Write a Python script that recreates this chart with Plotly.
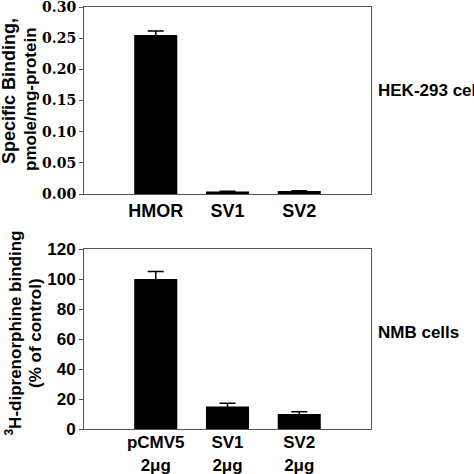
import plotly.graph_objects as go

# Top panel: HEK-293 cells
top_cats = ["HMOR", "SV1", "SV2"]
top_vals = [0.255, 0.004, 0.005]
top_err = [0.0065, 0.0004, 0.0004]
top_ticks = [0.00, 0.05, 0.10, 0.15, 0.20, 0.25, 0.30]
top_ticktext = ["0.00", "0.05", "0.10", "0.15", "0.20", "0.25", "0.30"]

# Bottom panel: NMB cells
bot_cats = ["pCMV5<br>2μg", "SV1<br>2μg", "SV2<br>2μg"]
bot_vals = [100, 15, 10]
bot_err = [5, 2.2, 1.5]
bot_ticks = [0, 20, 40, 60, 80, 100, 120]

W, H = 474, 474
AX = "#555555"
SANS = "Liberation Sans"
SERIF = "DejaVu Serif"


def px(v):
    # pixel from top -> paper y
    return 1 - v / H


fig = go.Figure()

fig.add_trace(go.Bar(
    x=top_cats, y=top_vals, width=0.6,
    marker=dict(color="black", line=dict(width=0)),
    error_y=dict(type="data", array=top_err, color="black", thickness=1.5, width=8),
    xaxis="x", yaxis="y", showlegend=False
))
fig.add_trace(go.Bar(
    x=bot_cats, y=bot_vals, width=0.6,
    marker=dict(color="black", line=dict(width=0)),
    error_y=dict(type="data", array=bot_err, color="black", thickness=1.5, width=8),
    xaxis="x2", yaxis="y2", showlegend=False
))

xdom = [84 / W, 371 / W]
axis_common = dict(showline=True, linecolor=AX, linewidth=1, mirror=True,
                   showgrid=False, zeroline=False, automargin=False,
                   ticklabeloverflow="allow")

fig.update_layout(
    width=W, height=H,
    margin=dict(l=0, r=0, t=0, b=0, autoexpand=False),
    paper_bgcolor="white", plot_bgcolor="white",
    xaxis=dict(domain=xdom, anchor="y", range=[-1, 3], ticks="",
               tickfont=dict(family=SANS, size=18, color="black", weight="bold"),
               **axis_common),
    yaxis=dict(domain=[px(194), px(7)], anchor="x", range=[0, 0.30],
               tickvals=top_ticks, ticktext=top_ticktext,
               ticks="outside", ticklen=4, tickcolor=AX,
               tickfont=dict(family=SERIF, size=14, color="black", weight="bold"),
               **axis_common),
    xaxis2=dict(domain=xdom, anchor="y2", range=[-1, 3], ticks="",
                ticklabelstandoff=-2,
                tickfont=dict(family=SANS, size=17, color="black", weight="bold"),
                **axis_common),
    yaxis2=dict(domain=[px(429), px(249)], anchor="x2", range=[0, 120],
                tickvals=bot_ticks,
                ticks="outside", ticklen=4, tickcolor=AX,
                tickfont=dict(family=SANS, size=17, color="black", weight="bold"),
                **axis_common),
)

title_font = dict(family=SANS, size=18, color="black", weight="bold")

# y-axis titles
fig.add_annotation(x=9 / W, y=px(166), xref="paper", yref="paper",
                   text="Specific Binding,", textangle=-90, showarrow=False,
                   xanchor="center", yanchor="bottom", font=title_font)
fig.add_annotation(x=30 / W, y=px(99), xref="paper", yref="paper",
                   text="pmole/mg-protein", textangle=-90, showarrow=False,
                   xanchor="center", yanchor="middle", font=dict(family=SANS, size=17, color="black", weight="bold"))
fig.add_annotation(x=13 / W, y=px(438), xref="paper", yref="paper",
                   text="<sup>3</sup>H-diprenorphine binding", textangle=-90, showarrow=False,
                   xanchor="center", yanchor="bottom", font=dict(family=SANS, size=17, color="black", weight="bold"))
fig.add_annotation(x=35 / W, y=px(333), xref="paper", yref="paper",
                   text="(% of control)", textangle=-90, showarrow=False,
                   xanchor="center", yanchor="middle", font=dict(family=SANS, size=17, color="black", weight="bold"))

# side labels
fig.add_annotation(x=376 / W, y=px(90), xref="paper", yref="paper",
                   text="HEK-293 cells", showarrow=False, xanchor="left", yanchor="middle",
                   font=dict(family=SANS, size=17, color="black", weight="bold"))
fig.add_annotation(x=376 / W, y=px(332), xref="paper", yref="paper",
                   text="NMB cells", showarrow=False, xanchor="left", yanchor="middle",
                   font=dict(family=SANS, size=17, color="black", weight="bold"))

# page body has a default 8px margin; remove it so the figure fills the window
fig.write_html("out.html", config={"displayModeBar": False},
               post_script="document.body.style.margin='0';")
